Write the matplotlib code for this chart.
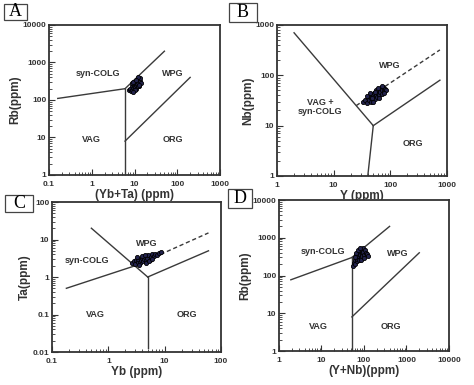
import matplotlib
matplotlib.use('Agg')
from matplotlib import pyplot as plt
from matplotlib.patches import Rectangle
from matplotlib.ticker import LogLocator, FuncFormatter, NullFormatter

plt.rcParams['font.family'] = ['Liberation Sans', 'DejaVu Sans']

# --- sample data ---
a_x = [7.5, 8.0, 8.2, 8.5, 8.8, 9.0, 9.2, 9.5, 9.8, 10, 10.3, 10.5, 10.8, 11, 11.3,
       11.5, 12, 12.4, 12.8, 13.2, 13.6, 14, 8.6, 9.4, 10.2, 11.8, 12.2, 10.6, 9.1, 13]
a_y = [180, 200, 170, 230, 190, 260, 210, 240, 180, 280, 220, 310, 250, 200, 340,
       270, 300, 360, 240, 320, 390, 280, 280, 300, 190, 230, 410, 350, 160, 250]

b_x = [33, 36, 38, 40, 42, 43, 45, 46, 48, 50, 52, 53, 55, 57, 58, 60, 62, 64,
       66, 68, 70, 72, 75, 78, 82, 85, 44, 50, 56, 63, 38, 47, 54, 61, 70, 76]
b_y = [30, 33, 28, 36, 32, 40, 35, 30, 42, 38, 45, 34, 40, 48, 37, 44, 52, 41,
       47, 55, 43, 50, 58, 48, 53, 52, 44, 30, 51, 36, 38, 36, 46, 57, 60, 45]

c_x = [2.6, 2.8, 3.0, 3.1, 3.3, 3.4, 3.6, 3.8, 3.9, 4.1, 4.3, 4.5, 4.7, 4.9, 5.1,
       5.4, 5.7, 6.0, 6.4, 6.8, 7.3, 7.8, 8.5, 3.5, 4.0, 4.6, 5.2, 5.9, 3.2, 4.4]
c_y = [2.4, 2.7, 2.2, 2.9, 2.5, 3.1, 2.3, 2.8, 3.3, 2.6, 3.0, 3.5, 2.7, 3.2, 3.8,
       2.9, 3.4, 4.0, 3.6, 4.2, 3.9, 4.4, 4.6, 2.1, 3.6, 2.4, 2.6, 3.1, 3.4, 3.9]

d_x = [55, 58, 60, 62, 65, 66, 68, 70, 72, 74, 76, 78, 80, 83, 85,
       88, 90, 93, 96, 100, 105, 110, 118, 125, 64, 72, 86, 98, 60, 79]
d_y = [180, 220, 260, 200, 300, 340, 240, 280, 380, 320, 260, 420, 350, 300, 480,
       390, 330, 550, 420, 360, 460, 400, 380, 330, 400, 470, 250, 290, 310, 520]

# field boundaries (Pearce et al. 1984)
a_lines = [([0.16, 6], [110, 200]), ([6, 6], [1, 200]), ([6, 50], [200, 2000]),
           ([6, 200], [8, 400])]
b_lines = [([2, 50], [700, 10]), ([40, 50], [1, 10]), ([50, 750], [10, 80])]
b_dash = ([25, 750], [25, 320])
c_lines = [([0.18, 3], [0.5, 2.0]), ([0.5, 5], [20, 1]), ([5, 5], [0.013, 1]),
           ([5, 60], [1, 5])]
c_dash = ([3, 60], [2.0, 15])
d_lines = [([1.9, 52], [77, 300]), ([52, 52], [1, 300]), ([52, 400], [300, 2000]),
           ([52, 2000], [8, 400])]

a_fields = [('syn-COLG', 1.4, 515), ('WPG', 80, 515), ('VAG', 1.0, 9), ('ORG', 78, 9)]
b_fields = [('WPG', 98, 160), ('VAG +\nsyn-COLG', 5.7, 24), ('ORG', 255, 4.5)]
c_fields = [('WPG', 4.8, 7.7), ('syn-COLG', 0.42, 2.7), ('VAG', 0.58, 0.1), ('ORG', 25, 0.1)]
d_fields = [('syn-COLG', 10.8, 420), ('WPG', 630, 380), ('VAG', 8.6, 4.5), ('ORG', 430, 4.5)]

W, H = 474, 385
fig = plt.figure(figsize=(W / 100, H / 100), dpi=100)
line_col = '#3a3a3a'
txt_col = '#333333'


def fmt(v, pos):
    if v >= 1:
        return '%d' % round(v)
    return ('%.2f' % v).rstrip('0')


def letter_box(letter, x0, y0, x1, y1):
    # box given in pixels from top-left
    fig.patches.append(Rectangle((x0 / W, 1 - y1 / H), (x1 - x0) / W, (y1 - y0) / H,
                                 transform=fig.transFigure, fc='white',
                                 ec='#444444', lw=0.9))
    fig.text((x0 + x1) / 2 / W, 1 - (y0 + y1) / 2 / H, letter, fontsize=13,
             family='Liberation Serif', ha='center', va='center')


def panel(rect, xs, ys, lines, fields, xlim, ylim, xlabel, ylabel, dash=None):
    ax = fig.add_axes(rect)
    ax.set_xscale('log')
    ax.set_yscale('log')
    ax.set_xlim(*xlim)
    ax.set_ylim(*ylim)
    for lx, ly in lines:
        ax.plot(lx, ly, color=line_col, lw=1.0)
    if dash is not None:
        ax.plot(dash[0], dash[1], color=line_col, lw=1.0, ls=(0, (3, 2)))
    ax.plot(xs, ys, 'o', ms=3.0, mfc='#23234d', mec='black', mew=0.6, zorder=5)
    for t, x, y in fields:
        ax.text(x, y, t, ha='center', va='center', fontsize=6.5, fontweight='bold',
                color=txt_col, linespacing=1.0)
    ax.xaxis.set_major_locator(LogLocator(base=10))
    ax.yaxis.set_major_locator(LogLocator(base=10))
    ax.xaxis.set_minor_locator(LogLocator(base=10, subs=range(2, 10)))
    ax.yaxis.set_minor_locator(LogLocator(base=10, subs=range(2, 10)))
    ax.xaxis.set_major_formatter(FuncFormatter(fmt))
    ax.yaxis.set_major_formatter(FuncFormatter(fmt))
    ax.xaxis.set_minor_formatter(NullFormatter())
    ax.yaxis.set_minor_formatter(NullFormatter())
    ax.tick_params(which='both', direction='in', colors=txt_col, labelsize=6)
    ax.tick_params(which='major', length=4, width=0.8)
    ax.tick_params(which='minor', length=2, width=0.6)
    ax.tick_params(axis='x', which='major', pad=4)
    ax.tick_params(axis='y', which='major', pad=2)
    for lab in ax.get_xticklabels() + ax.get_yticklabels():
        lab.set_fontweight('bold')
    for s in ax.spines.values():
        s.set_color('#333333')
        s.set_linewidth(1.3)
    ax.set_xlabel(xlabel, fontsize=8.5, fontweight='bold', color=txt_col, labelpad=1)
    ax.set_ylabel(ylabel, fontsize=8.5, fontweight='bold', color=txt_col, labelpad=1)
    return ax


panel([0.1034, 0.5455, 0.3608, 0.3896], a_x, a_y, a_lines, a_fields,
      (0.1, 1000), (1, 10000), '(Yb+Ta) (ppm)', 'Rb(ppm)')
panel([0.5844, 0.5429, 0.3586, 0.3922], b_x, b_y, b_lines, b_fields,
      (1, 1000), (1, 1000), 'Y (ppm)', 'Nb(ppm)', dash=b_dash)
panel([0.1097, 0.0857, 0.3565, 0.3896], c_x, c_y, c_lines, c_fields,
      (0.1, 100), (0.01, 100), 'Yb (ppm)', 'Ta(ppm)', dash=c_dash)
panel([0.5886, 0.0883, 0.3586, 0.3922], d_x, d_y, d_lines, d_fields,
      (1, 10000), (1, 10000), '(Y+Nb)(ppm)', 'Rb(ppm)')

letter_box('A', 4, 4, 27, 20)
letter_box('B', 229, 3, 257, 22)
letter_box('C', 5, 195, 33, 212)
letter_box('D', 228, 189, 252, 208)

fig.savefig('out.png', dpi=100)
